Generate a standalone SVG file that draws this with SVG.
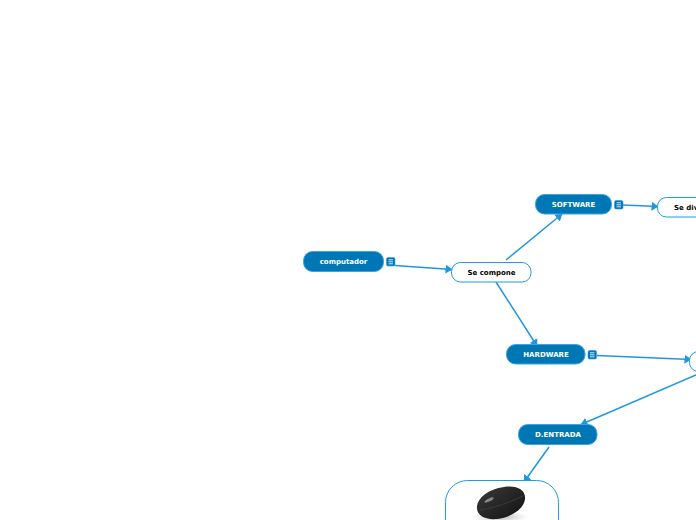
<svg xmlns="http://www.w3.org/2000/svg" width="696" height="520" viewBox="0 0 696 520">
<style>
text{font-family:"DejaVu Sans",sans-serif;font-weight:700;font-size:7px;text-anchor:middle}
.m rect{fill:#0077b5;stroke:#3ea3e6;stroke-width:1}
.m text{fill:#fff}
.w rect{fill:#fff;stroke:#1f9be6;stroke-width:1}
.w text{fill:#000}
.c line{stroke:#1f96e2;stroke-width:1.5}
.ic{fill:#0077b5;stroke:#2f9be0;stroke-width:.6}
.il{stroke:#cfe8f8;stroke-width:1}
</style>
<defs>
<marker id="a" markerUnits="userSpaceOnUse" markerWidth="8" markerHeight="10" refX="6.5" refY="4.5" orient="auto"><path d="M0 0L7 4.5L0 9Z" fill="#1f96e2"/></marker>
<g id="n"><rect class="ic" x="0" y="0" width="8.5" height="8.5" rx="1.5"/><path class="il" d="M2 2.300H6.500M2 4.300H6.500M2 6.300H6.500"/></g>
<radialGradient id="s"><stop offset="0" stop-color="#bbb"/><stop offset="1" stop-color="#fff"/></radialGradient>
<linearGradient id="b" x1="0" y1="0" x2="1" y2="1"><stop offset="0" stop-color="#3a3a3a"/><stop offset=".6" stop-color="#222"/><stop offset="1" stop-color="#111"/></linearGradient>
</defs>
<g class="c" id="connectors">
<line x1="395" y1="265.500" x2="452" y2="269.500" marker-end="url(#a)"/>
<line x1="506" y1="260" x2="562" y2="214" marker-end="url(#a)"/>
<line x1="496" y1="282" x2="537" y2="346" marker-end="url(#a)"/>
<line x1="623" y1="205" x2="658" y2="206.500" marker-end="url(#a)"/>
<line x1="597" y1="355.500" x2="691" y2="359.500" marker-end="url(#a)"/>
<line x1="696" y1="375" x2="581" y2="424.500" marker-end="url(#a)"/>
<line x1="549" y1="447" x2="524" y2="482" marker-end="url(#a)"/>
</g>
<g id="computador" class="m"><rect x="303.500" y="251.500" width="80" height="20" rx="9"/><text x="343.500" y="263.900">computador</text></g>
<use href="#n" x="386.500" y="257.500"/>
<g id="se-compone" class="w"><rect x="451.500" y="262.500" width="79.500" height="19.500" rx="9"/><text x="491.500" y="275">Se compone</text></g>
<g id="software" class="m"><rect x="535.500" y="194.500" width="76" height="19.500" rx="9"/><text x="573.500" y="206.800">SOFTWARE</text></g>
<use href="#n" x="614.500" y="200.500"/>
<g id="se-divide" class="w"><rect x="657.500" y="197.500" width="79.500" height="19.500" rx="9"/><text x="674" y="210" style="text-anchor:start">Se div</text></g>
<g id="hardware" class="m"><rect x="506.500" y="344.500" width="78.500" height="19.500" rx="9"/><text x="546" y="356.800">HARDWARE</text></g>
<use href="#n" x="588" y="350.500"/>
<g id="hardware-child" class="w"><rect x="689.500" y="351.500" width="79.500" height="20" rx="9"/></g>
<g id="d-entrada" class="m"><rect x="518.500" y="424.500" width="78.500" height="20" rx="9"/><text x="558" y="436.800">D.ENTRADA</text></g>
<g id="mouse" class="w"><rect x="445.500" y="480.500" width="113" height="70" rx="22"/>
<ellipse cx="500" cy="517" rx="27" ry="6" fill="url(#s)"/>
<path d="M477 506C478 498 488 489 504 487C517 485 526 490 525 499C524 508 513 517 497 519C484 520 476 515 477 506Z" fill="url(#b)"/>
<path d="M480 510Q500 507 523 496" fill="none" stroke="#4a4a4a" stroke-width=".6"/>
<ellipse cx="489" cy="500" rx="5" ry="1.500" fill="#888" transform="rotate(-25 489 500)"/>
</g>
</svg>
